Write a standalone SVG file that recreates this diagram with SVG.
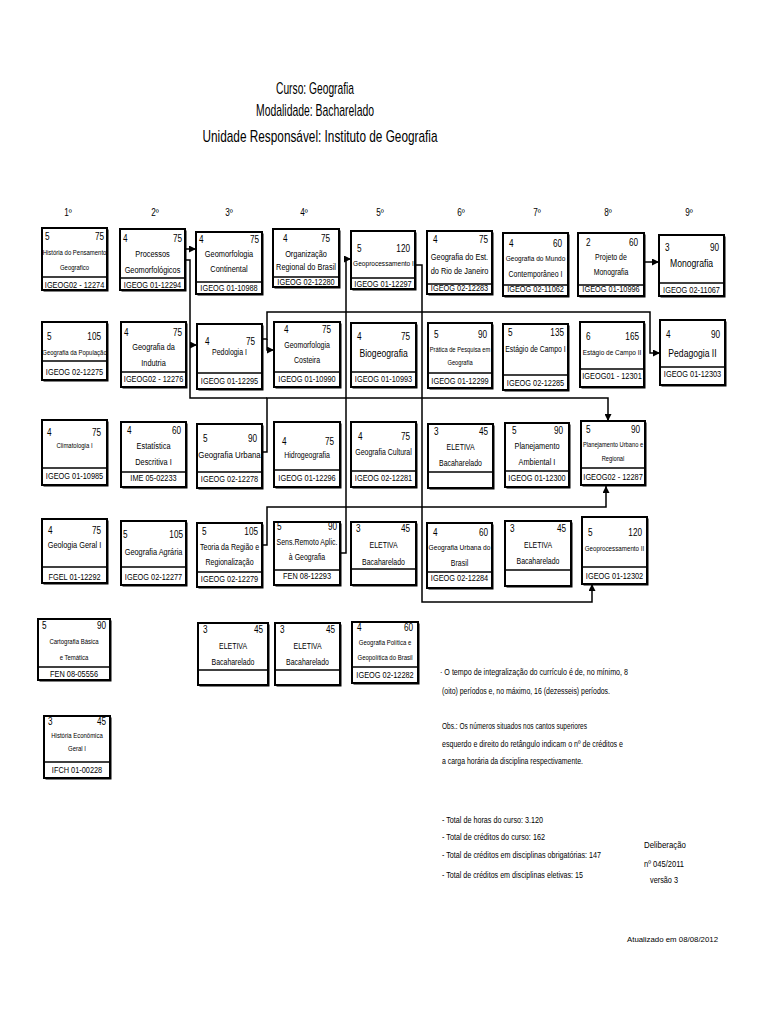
<svg xmlns="http://www.w3.org/2000/svg" width="768" height="1024" viewBox="0 0 768 1024">
<defs>
<style>
text{font-family:"Liberation Sans",Arial,sans-serif;fill:#000;transform-box:fill-box;transform-origin:0 50%;transform:scaleX(.82)}
.sh{fill:#000}
.box{fill:#fff;stroke:#000;stroke-width:2}
.dv{stroke:#000;stroke-width:1.5}
.n{font-size:10px}
.nm{font-size:8.5px;text-anchor:middle;transform-origin:50% 50%}
.sm{font-size:7.3px;text-anchor:middle;transform-origin:50% 50%}
.bg{font-size:10.5px;text-anchor:middle;transform-origin:50% 50%}
.cd{font-size:9px;text-anchor:middle;transform-origin:50% 50%}
.r{text-anchor:end;transform-origin:100% 50%}
.hd{font-size:10px;text-anchor:middle;transform-origin:50% 50%}
.tt{font-size:17px;text-anchor:middle;transform:none}
.nt{font-size:9px;transform:none}
.cn{fill:none;stroke:#000;stroke-width:1.5}
</style>
<marker id="ah" viewBox="0 0 10 10" refX="10" refY="5" markerWidth="8" markerHeight="7" orient="auto" markerUnits="userSpaceOnUse"><path d="M0,0 L10,5 L0,10 z" fill="#000"/></marker>
</defs>
<rect width="768" height="1024" fill="#fff"/>
<g id="title">
<text class="tt" x="315" y="94" textLength="78" lengthAdjust="spacingAndGlyphs">Curso: Geografia</text>
<text class="tt" x="315" y="116" textLength="118" lengthAdjust="spacingAndGlyphs">Modalidade: Bacharelado</text>
<text class="tt" x="320" y="142" textLength="235" lengthAdjust="spacingAndGlyphs">Unidade Responsável: Instituto de Geografia</text>
</g>
<g id="headers">
<text class="hd" x="68" y="216">1º</text>
<text class="hd" x="155" y="216">2º</text>
<text class="hd" x="229" y="216">3º</text>
<text class="hd" x="304" y="216">4º</text>
<text class="hd" x="380" y="216">5º</text>
<text class="hd" x="461" y="216">6º</text>
<text class="hd" x="537" y="216">7º</text>
<text class="hd" x="608" y="216">8º</text>
<text class="hd" x="689" y="216">9º</text>
</g>
<g id="connectors">
<path class="cn" d="M185,249 H196" marker-end="url(#ah)"/>
<path class="cn" d="M185,260 H190 V398 H267"/>
<path class="cn" d="M190,345 H197" marker-end="url(#ah)"/>
<path class="cn" d="M262,339 H267 V312 H650 V353 H660" marker-end="url(#ah)"/>
<path class="cn" d="M267,339 V350 H274" marker-end="url(#ah)"/>
<path class="cn" d="M262,452 H267 V398 H608 V421" marker-end="url(#ah)"/>
<path class="cn" d="M262,545 H267 V507 H606 V486" marker-end="url(#ah)"/>
<path class="cn" d="M340,553 H346 V259 H351" marker-end="url(#ah)"/>
<path class="cn" d="M415,265 H422 V602 H592 V584" marker-end="url(#ah)"/>
<path class="cn" d="M644,262 H659" marker-end="url(#ah)"/>
</g>
<!-- Row 1 -->
<g id="n-historia-pensamento"><rect class="sh" x="43.5" y="229.5" width="65" height="62"/><rect class="box" x="42" y="228" width="65" height="62"/><line class="dv" x1="42" y1="277" x2="107" y2="277"/>
<text class="n" x="45" y="240">5</text><text class="n r" x="104" y="240">75</text>
<text class="sm" x="74.5" y="255">História do Pensamento</text><text class="sm" x="74.5" y="270">Geografico</text>
<text class="cd" x="74.5" y="288">IGEOG02 - 12274</text></g>
<g id="n-processos"><rect class="sh" x="121.5" y="230.5" width="65" height="61"/><rect class="box" x="120" y="229" width="65" height="61"/><line class="dv" x1="120" y1="278" x2="185" y2="278"/>
<text class="n" x="123" y="242">4</text><text class="n r" x="182" y="242">75</text>
<text class="nm" x="152.5" y="257" style="font-size:9px">Processos</text><text class="nm" x="152.5" y="273.5" style="font-size:9px">Geomorfológicos</text>
<text class="cd" x="152.5" y="288.5">IGEOG 01-12294</text></g>
<g id="n-geomorf-continental"><rect class="sh" x="197.5" y="233.5" width="66" height="62"/><rect class="box" x="196" y="232" width="66" height="62"/><line class="dv" x1="196" y1="282" x2="262" y2="282"/>
<text class="n" x="199" y="243">4</text><text class="n r" x="259" y="243">75</text>
<text class="nm" x="229" y="257" style="font-size:9px">Geomorfologia</text><text class="nm" x="229" y="272" style="font-size:9px">Continental</text>
<text class="cd" x="229" y="291">IGEOG 01-10988</text></g>
<g id="n-organizacao"><rect class="sh" x="274.5" y="230.5" width="66" height="58"/><rect class="box" x="273" y="229" width="66" height="58"/><line class="dv" x1="273" y1="277" x2="339" y2="277"/>
<text class="n" x="283" y="242">4</text><text class="n r" x="330" y="242">75</text>
<text class="nm" x="306" y="257" style="font-size:9px">Organização</text><text class="nm" x="306" y="270" style="font-size:9px">Regional do Brasil</text>
<text class="cd" x="306" y="285.5">IGEOG 02-12280</text></g>
<g id="n-geoproc1"><rect class="sh" x="352.5" y="232.5" width="64" height="58"/><rect class="box" x="351" y="231" width="64" height="58"/><line class="dv" x1="351" y1="278" x2="415" y2="278"/>
<text class="n" x="357" y="252">5</text><text class="n r" x="410" y="252">120</text>
<text class="nm" x="383.5" y="266.5" style="font-size:8px">Geoprocessamento I</text>
<text class="cd" x="383" y="287">IGEOG 01-12297</text></g>
<g id="n-geog-rj"><rect class="sh" x="428.5" y="232.5" width="65" height="63"/><rect class="box" x="427" y="231" width="65" height="63"/><line class="dv" x1="427" y1="284" x2="492" y2="284"/>
<text class="n" x="433" y="243">4</text><text class="n r" x="488" y="243">75</text>
<text class="nm" x="459.5" y="260.5" style="font-size:9px">Geografia do Est.</text><text class="nm" x="459.5" y="274.5" style="font-size:9px">do Rio de Janeiro</text>
<text class="cd" x="459.5" y="291">IGEOG 02-12283</text></g>
<g id="n-mundo-contemp"><rect class="sh" x="504.5" y="234.5" width="65" height="63"/><rect class="box" x="503" y="233" width="65" height="63"/><line class="dv" x1="503" y1="285" x2="568" y2="285"/>
<text class="n" x="509" y="247">4</text><text class="n r" x="562" y="247">60</text>
<text class="nm" x="535.5" y="261.5" style="font-size:8px">Geografia do Mundo</text><text class="nm" x="535.5" y="277.5">Contemporâneo I</text>
<text class="cd" x="535.5" y="292">IGEOG 02-11062</text></g>
<g id="n-projeto-mono"><rect class="sh" x="579.5" y="234.5" width="66" height="63"/><rect class="box" x="578" y="233" width="66" height="63"/><line class="dv" x1="578" y1="285" x2="644" y2="285"/>
<text class="n" x="586" y="246.5">2</text><text class="n r" x="638" y="246.5">60</text>
<text class="nm" x="611" y="260.5">Projeto de</text><text class="nm" x="611" y="275.5">Monografia</text>
<text class="cd" x="611" y="292">IGEOG 01-10996</text></g>
<g id="n-monografia"><rect class="sh" x="660.5" y="236.5" width="65" height="61"/><rect class="box" x="659" y="235" width="65" height="61"/><line class="dv" x1="659" y1="283" x2="724" y2="283"/>
<text class="n" x="665" y="251">3</text><text class="n r" x="719" y="251">90</text>
<text class="bg" x="691.5" y="267">Monografia</text>
<text class="cd" x="691.5" y="293">IGEOG  02-11067</text></g>
<!-- Row 2 -->
<g id="n-geog-populacao"><rect class="sh" x="43.5" y="323.5" width="65" height="58"/><rect class="box" x="42" y="322" width="65" height="58"/><line class="dv" x1="42" y1="361" x2="107" y2="361"/>
<text class="n" x="47" y="340">5</text><text class="n r" x="101" y="340">105</text>
<text class="sm" x="74.5" y="355">Geografia da População</text>
<text class="cd" x="74.5" y="375">IGEOG 02-12275</text></g>
<g id="n-geog-industria"><rect class="sh" x="122.5" y="323.5" width="65" height="65"/><rect class="box" x="121" y="322" width="65" height="65"/><line class="dv" x1="121" y1="372" x2="186" y2="372"/>
<text class="n" x="124" y="336">4</text><text class="n r" x="182" y="336">75</text>
<text class="nm" x="153.5" y="350.5" style="font-size:9px">Geografia da</text><text class="nm" x="153.5" y="366.5" style="font-size:9px">Indutria</text>
<text class="cd" x="153.5" y="382">IGEOG02 - 12276</text></g>
<g id="n-pedologia1"><rect class="sh" x="198.5" y="325.5" width="65" height="65"/><rect class="box" x="197" y="324" width="65" height="65"/><line class="dv" x1="197" y1="373" x2="262" y2="373"/>
<text class="n" x="205" y="345.5">4</text><text class="n r" x="255" y="345.5">75</text>
<text class="nm" x="229.5" y="355.5">Pedologia I</text>
<text class="cd" x="229.5" y="384.5">IGEOG 01-12295</text></g>
<g id="n-geomorf-costeira"><rect class="sh" x="275.5" y="323.5" width="66" height="65"/><rect class="box" x="274" y="322" width="66" height="65"/><line class="dv" x1="274" y1="372" x2="340" y2="372"/>
<text class="n" x="284" y="333">4</text><text class="n r" x="331" y="333">75</text>
<text class="nm" x="307" y="348.5">Geomorfologia</text><text class="nm" x="307" y="363.5">Costeira</text>
<text class="cd" x="307" y="382">IGEOG 01-10990</text></g>
<g id="n-biogeografia"><rect class="sh" x="352.5" y="324.5" width="65" height="64"/><rect class="box" x="351" y="323" width="65" height="64"/><line class="dv" x1="351" y1="372" x2="416" y2="372"/>
<text class="n" x="357" y="340.5">4</text><text class="n r" x="410" y="340.5">75</text>
<text class="bg" x="383.5" y="357">Biogeografia</text>
<text class="cd" x="383.5" y="382">IGEOG 01-10993</text></g>
<g id="n-pratica-pesquisa"><rect class="sh" x="429.5" y="324.5" width="64" height="65"/><rect class="box" x="428" y="323" width="64" height="65"/><line class="dv" x1="428" y1="373" x2="492" y2="373"/>
<text class="n" x="434" y="338.5">5</text><text class="n r" x="487" y="338.5">90</text>
<text class="sm" x="460" y="352.5" style="font-size:7px">Prática de Pesquisa em</text><text class="sm" x="460" y="365.5" style="font-size:7px">Geografia</text>
<text class="cd" x="460" y="384">IGEOG 01-12299</text></g>
<g id="n-estagio1"><rect class="sh" x="504.5" y="325.5" width="65" height="66"/><rect class="box" x="503" y="324" width="65" height="66"/><line class="dv" x1="503" y1="375" x2="568" y2="375"/>
<text class="n" x="508" y="336.5">5</text><text class="n r" x="564" y="336.5">135</text>
<text class="nm" x="535.5" y="352.5" style="font-size:8.4px">Estágio de Campo I</text>
<text class="cd" x="535.5" y="386">IGEOG 02-12285</text></g>
<g id="n-estagio2"><rect class="sh" x="581.5" y="323.5" width="64" height="65"/><rect class="box" x="580" y="322" width="64" height="65"/><line class="dv" x1="580" y1="369" x2="644" y2="369"/>
<text class="n" x="586" y="340.5">6</text><text class="n r" x="639" y="340.5">165</text>
<text class="nm" x="612" y="355.5" style="font-size:7.9px">Estágio de Campo II</text>
<text class="cd" x="612" y="379">IGEOG01 - 12301</text></g>
<g id="n-pedagogia2"><rect class="sh" x="661.5" y="321.5" width="65" height="65"/><rect class="box" x="660" y="320" width="65" height="65"/><line class="dv" x1="660" y1="367" x2="725" y2="367"/>
<text class="n" x="666" y="338.5">4</text><text class="n r" x="720" y="338.5">90</text>
<text class="bg" x="692.5" y="357">Pedagogia II</text>
<text class="cd" x="692.5" y="377">IGEOG 01-12303</text></g>
<!-- Row 3 -->
<g id="n-climatologia1"><rect class="sh" x="43.5" y="421.5" width="65" height="65"/><rect class="box" x="42" y="420" width="65" height="65"/><line class="dv" x1="42" y1="468" x2="107" y2="468"/>
<text class="n" x="47" y="436">4</text><text class="n r" x="101" y="436">75</text>
<text class="sm" x="74.5" y="448.5">Climatologia I</text>
<text class="cd" x="74.5" y="479.5">IGEOG 01-10985</text></g>
<g id="n-estatistica"><rect class="sh" x="122.5" y="423.5" width="65" height="65"/><rect class="box" x="121" y="422" width="65" height="65"/><line class="dv" x1="121" y1="472" x2="186" y2="472"/>
<text class="n" x="127" y="434">4</text><text class="n r" x="181" y="434">60</text>
<text class="nm" x="153.5" y="449.5" style="font-size:9px">Estatística</text><text class="nm" x="153.5" y="465.5" style="font-size:9px">Descritiva I</text>
<text class="cd" x="153.5" y="481.5">IME 05-02233</text></g>
<g id="n-geog-urbana"><rect class="sh" x="198.5" y="425.5" width="65" height="64"/><rect class="box" x="197" y="424" width="65" height="64"/><line class="dv" x1="197" y1="472" x2="262" y2="472"/>
<text class="n" x="203" y="442">5</text><text class="n r" x="257" y="442">90</text>
<text class="bg" x="229.5" y="458.5" style="font-size:9.6px">Geografia Urbana</text>
<text class="cd" x="229.5" y="482">IGEOG 02-12278</text></g>
<g id="n-hidrogeografia"><rect class="sh" x="275.5" y="423.5" width="66" height="65"/><rect class="box" x="274" y="422" width="66" height="65"/><line class="dv" x1="274" y1="470" x2="340" y2="470"/>
<text class="n" x="282" y="445.5">4</text><text class="n r" x="334" y="445.5">75</text>
<text class="nm" x="307" y="458.5">Hidrogeografia</text>
<text class="cd" x="307" y="481.5">IGEOG 01-12296</text></g>
<g id="n-geog-cultural"><rect class="sh" x="352.5" y="423.5" width="65" height="65"/><rect class="box" x="351" y="422" width="65" height="65"/><line class="dv" x1="351" y1="471" x2="416" y2="471"/>
<text class="n" x="358" y="440">4</text><text class="n r" x="410" y="440">75</text>
<text class="nm" x="383.5" y="455.5">Geografia Cultural</text>
<text class="cd" x="383.5" y="481.5">IGEOG 02-12281</text></g>
<g id="n-eletiva-6a"><rect class="sh" x="429.5" y="425.5" width="65" height="64"/><rect class="box" x="428" y="424" width="65" height="64"/><line class="dv" x1="428" y1="472" x2="493" y2="472"/>
<text class="n" x="434" y="435.5">3</text><text class="n r" x="488" y="435.5">45</text>
<text class="nm" x="460.5" y="450.5">ELETIVA</text><text class="nm" x="460.5" y="466.5">Bacaharelado</text></g>
<g id="n-plan-ambiental"><rect class="sh" x="506.5" y="424.5" width="64" height="64"/><rect class="box" x="505" y="423" width="64" height="64"/><line class="dv" x1="505" y1="471" x2="569" y2="471"/>
<text class="n" x="512" y="434.5">5</text><text class="n r" x="563" y="434.5">90</text>
<text class="nm" x="537" y="449.5" style="font-size:9px">Planejamento</text><text class="nm" x="537" y="465.5" style="font-size:9px">Ambiental I</text>
<text class="cd" x="537" y="481.5">IGEOG 01-12300</text></g>
<g id="n-plan-urbano"><rect class="sh" x="582.5" y="422.5" width="64" height="64"/><rect class="box" x="581" y="421" width="64" height="64"/><line class="dv" x1="581" y1="468" x2="645" y2="468"/>
<text class="n" x="586" y="433.5">5</text><text class="n r" x="640" y="433.5">90</text>
<text class="sm" x="613" y="447.5" style="font-size:7px">Planejamento Urbano e</text><text class="sm" x="613" y="461.5" style="font-size:7px">Regional</text>
<text class="cd" x="613" y="480.5">IGEOG02 - 12287</text></g>
<!-- Row 4 -->
<g id="n-geologia-geral"><rect class="sh" x="43.5" y="520.5" width="65" height="64"/><rect class="box" x="42" y="519" width="65" height="64"/><line class="dv" x1="42" y1="567" x2="107" y2="567"/>
<text class="n" x="48" y="534.5">4</text><text class="n r" x="101" y="534.5">75</text>
<text class="nm" x="74.5" y="548.5" style="font-size:9px">Geologia Geral I</text>
<text class="cd" x="74.5" y="580.5">FGEL 01-12292</text></g>
<g id="n-geog-agraria"><rect class="sh" x="122.5" y="522.5" width="65" height="64"/><rect class="box" x="121" y="521" width="65" height="64"/><line class="dv" x1="121" y1="567" x2="186" y2="567"/>
<text class="n" x="123" y="538.5">5</text><text class="n r" x="183" y="538.5">105</text>
<text class="nm" x="153.5" y="555.5" style="font-size:9px">Geografia Agrária</text>
<text class="cd" x="153.5" y="580.5">IGEOG 02-12277</text></g>
<g id="n-teoria-regiao"><rect class="sh" x="198.5" y="524.5" width="65" height="64"/><rect class="box" x="197" y="523" width="65" height="64"/><line class="dv" x1="197" y1="572" x2="262" y2="572"/>
<text class="n" x="202" y="535.5">5</text><text class="n r" x="258" y="535.5">105</text>
<text class="nm" x="229.5" y="550.5" style="font-size:8.6px">Teoria da Região e</text><text class="nm" x="229.5" y="565.5" style="font-size:8.6px">Regionalização</text>
<text class="cd" x="229.5" y="582">IGEOG 02-12279</text></g>
<g id="n-sens-remoto"><rect class="sh" x="275.5" y="523.5" width="66" height="63"/><rect class="box" x="274" y="522" width="66" height="63"/><line class="dv" x1="274" y1="570" x2="340" y2="570"/>
<text class="n" x="277" y="530">5</text><text class="n r" x="337" y="530">90</text>
<text class="nm" x="307" y="545.5">Sens.Remoto Aplic.</text><text class="nm" x="307" y="560.5">à Geografia</text>
<text class="cd" x="307" y="579">FEN 08-12293</text></g>
<g id="n-eletiva-5b"><rect class="sh" x="352.5" y="523.5" width="65" height="63"/><rect class="box" x="351" y="522" width="65" height="63"/><line class="dv" x1="351" y1="569" x2="416" y2="569"/>
<text class="n" x="356" y="532.5">3</text><text class="n r" x="410" y="532.5">45</text>
<text class="nm" x="383.5" y="548.5">ELETIVA</text><text class="nm" x="383.5" y="565.5">Bacaharelado</text></g>
<g id="n-geog-urbana-brasil"><rect class="sh" x="428.5" y="524.5" width="65" height="65"/><rect class="box" x="427" y="523" width="65" height="65"/><line class="dv" x1="427" y1="572" x2="492" y2="572"/>
<text class="n" x="433" y="536.5">4</text><text class="n r" x="488" y="536.5">60</text>
<text class="nm" x="459.5" y="550.5" style="font-size:8.1px">Geografia Urbana do</text><text class="nm" x="459.5" y="566.5">Brasil</text>
<text class="cd" x="459.5" y="581">IGEOG 02-12284</text></g>
<g id="n-eletiva-7b"><rect class="sh" x="506.5" y="522.5" width="66" height="65"/><rect class="box" x="505" y="521" width="66" height="65"/><line class="dv" x1="505" y1="570" x2="571" y2="570"/>
<text class="n" x="510" y="532.5">3</text><text class="n r" x="566" y="532.5">45</text>
<text class="nm" x="538" y="548.5">ELETIVA</text><text class="nm" x="538" y="564.5">Bacaharelado</text></g>
<g id="n-geoproc2"><rect class="sh" x="583.5" y="518.5" width="65" height="67"/><rect class="box" x="582" y="517" width="65" height="67"/><line class="dv" x1="582" y1="567" x2="647" y2="567"/>
<text class="n" x="588" y="536.5">5</text><text class="n r" x="642" y="536.5">120</text>
<text class="nm" x="614.5" y="551.5" style="font-size:7.6px">Geoprocessamento II</text>
<text class="cd" x="614.5" y="579.5">IGEOG 01-12302</text></g>
<!-- Row 5 -->
<g id="n-cartografia"><rect class="sh" x="39.5" y="620.5" width="72" height="61"/><rect class="box" x="38" y="619" width="72" height="61"/><line class="dv" x1="38" y1="667" x2="110" y2="667"/>
<text class="n" x="42" y="629">5</text><text class="n r" x="106" y="629">90</text>
<text class="sm" x="74" y="644">Cartografia Básica</text><text class="sm" x="74" y="660">e Temática</text>
<text class="cd" x="74" y="677">FEN 08-05556</text></g>
<g id="n-eletiva-3c"><rect class="sh" x="199.5" y="624.5" width="70" height="62"/><rect class="box" x="198" y="623" width="70" height="62"/><line class="dv" x1="198" y1="670" x2="268" y2="670"/>
<text class="n" x="203" y="633">3</text><text class="n r" x="263" y="633">45</text>
<text class="nm" x="233" y="649">ELETIVA</text><text class="nm" x="233" y="665">Bacaharelado</text></g>
<g id="n-eletiva-4c"><rect class="sh" x="276.5" y="624.5" width="65" height="62"/><rect class="box" x="275" y="623" width="65" height="62"/><line class="dv" x1="275" y1="670" x2="340" y2="670"/>
<text class="n" x="280" y="633">3</text><text class="n r" x="335" y="633">45</text>
<text class="nm" x="307.5" y="649">ELETIVA</text><text class="nm" x="307.5" y="665">Bacaharelado</text></g>
<g id="n-geog-politica"><rect class="sh" x="353.5" y="623.5" width="66" height="61"/><rect class="box" x="352" y="622" width="66" height="61"/><line class="dv" x1="352" y1="667" x2="418" y2="667"/>
<text class="n" x="357" y="631">4</text><text class="n r" x="413" y="631">60</text>
<text class="sm" x="385" y="645">Geografia Política e</text><text class="sm" x="385" y="660">Geopolítica do Brasil</text>
<text class="cd" x="385" y="678">IGEOG 02-12282</text></g>
<!-- Row 6 -->
<g id="n-historia-economica"><rect class="sh" x="45.5" y="717.5" width="66" height="62"/><rect class="box" x="44" y="716" width="66" height="62"/><line class="dv" x1="44" y1="762" x2="110" y2="762"/>
<text class="n" x="48" y="725">3</text><text class="n r" x="106" y="725">45</text>
<text class="sm" x="77" y="738">História Econômica</text><text class="sm" x="77" y="751">Geral  I</text>
<text class="cd" x="77" y="773">IFCH 01-00228</text></g>
<g id="notes">
<text class="nt" x="440" y="675" textLength="188" lengthAdjust="spacingAndGlyphs">· O tempo de integralização do currículo é de, no mínimo, 8</text>
<text class="nt" x="442" y="694" textLength="168" lengthAdjust="spacingAndGlyphs">(oito) períodos e, no máximo, 16 (dezesseis) períodos.</text>
<text class="nt" x="442" y="729" textLength="145" lengthAdjust="spacingAndGlyphs">Obs.: Os números situados nos cantos superiores</text>
<text class="nt" x="442" y="747" textLength="181" lengthAdjust="spacingAndGlyphs">esquerdo e direito  do retângulo indicam o nº de créditos e</text>
<text class="nt" x="442" y="764" textLength="141" lengthAdjust="spacingAndGlyphs">a carga horária da disciplina respectivamente.</text>
<text class="nt" x="442" y="823" textLength="101" lengthAdjust="spacingAndGlyphs">- Total de horas do curso: 3.120</text>
<text class="nt" x="442" y="840" textLength="103" lengthAdjust="spacingAndGlyphs">- Total de créditos do curso: 162</text>
<text class="nt" x="442" y="858" textLength="159" lengthAdjust="spacingAndGlyphs">- Total de créditos em disciplinas obrigatórias: 147</text>
<text class="nt" x="442" y="878" textLength="141" lengthAdjust="spacingAndGlyphs">- Total de créditos em disciplinas eletivas: 15</text>
<text class="nt" x="644" y="848" textLength="42" lengthAdjust="spacingAndGlyphs">Deliberação</text>
<text class="nt" x="644" y="867" textLength="40" lengthAdjust="spacingAndGlyphs">nº 045/2011</text>
<text class="nt" x="650" y="883" textLength="28" lengthAdjust="spacingAndGlyphs">versão 3</text>
<text class="nt" x="627" y="942" style="font-size:7.5px" textLength="91" lengthAdjust="spacingAndGlyphs">Atualizado em 08/08/2012</text>
</g>
</svg>
